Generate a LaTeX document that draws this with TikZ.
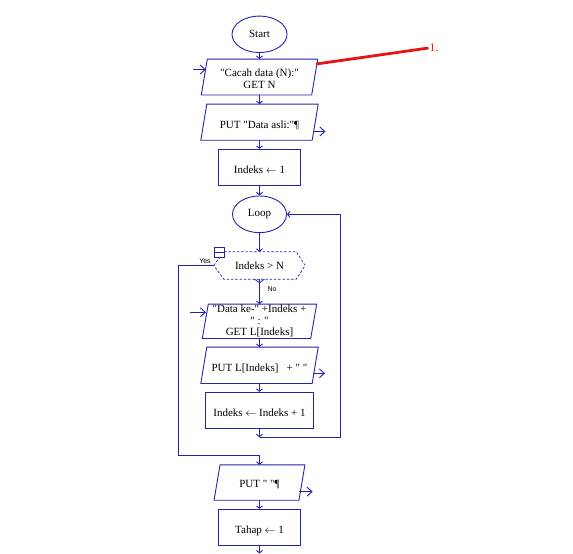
\documentclass[tikz,border=0pt]{standalone}
\usepackage{fontspec}
\newfontfamily\rserif{Liberation Serif}
\newfontfamily\lsans{Liberation Sans}
\usetikzlibrary{shapes.geometric,arrows.meta}
\definecolor{fb}{RGB}{35,35,175}
\definecolor{rd}{RGB}{230,20,20}
\newcommand\drawpara[1]{\draw[fl] ([xshift=3pt]#1.north west) -- ([xshift=3pt]#1.north east) -- ([xshift=-3pt]#1.south east) -- ([xshift=-3pt]#1.south west) -- cycle;}
\begin{document}
\begin{tikzpicture}[x=1pt,y=-1pt,
  every node/.style={font=\rserif\fontsize{11}{12.5}\selectfont, text=black},
  fl/.style={draw=fb, line width=0.9pt},
  ar/.style={fl, -{Straight Barb[length=2.5pt,width=6pt]}},
  io/.style={fl, -{Straight Barb[length=5pt,width=9pt]}},
  box/.style={rectangle, inner sep=0pt},
  procbox/.style={rectangle, draw=fb, line width=0.9pt, inner sep=0pt},
  ell/.style={ellipse, draw=fb, line width=0.9pt, inner sep=0pt},
  txt/.style={inner sep=0pt, align=center},
  lab/.style={font=\lsans\fontsize{7}{8}\selectfont, inner sep=0pt}]
\useasboundingbox (0,0) rectangle (573,554);

% Start
\node[ell, minimum width=55pt, minimum height=36.5pt] (start) at (259.5,34.3) {Start};

% Input 1
\node[box, minimum width=110pt, minimum height=35.5pt] (p1) at (259.5,77) {};
\drawpara{p1}
\node[txt] (p1t) at (259.5,78.5) {"Cacah data (N):"\\GET N};

% Output 2
\node[box, minimum width=111pt, minimum height=35.7pt] (p2) at (259.5,122.2) {};
\drawpara{p2}
\node[txt] (p2t) at ([yshift=-3.5pt]p2.center) {PUT "Data asli:"¶};

% Assignment Indeks <- 1
\node[procbox, minimum width=81.4pt, minimum height=35.7pt] (r1) at (259.5,167.2) {};
\node[txt] (r1t) at ([yshift=-3pt]r1.center) {Indeks $\leftarrow$ 1};

% Loop
\node[ell, minimum width=54pt, minimum height=36.7pt] (loop) at (259.5,214.3) {Loop};

% Decision hexagon
\node[box, minimum width=91pt, minimum height=27pt] (hex) at (259.5,265.5) {Indeks > N};
\draw[fl, line width=0.7pt, dash pattern=on 2.5pt off 1.8pt]
  (hex.west) -- ([xshift=10pt]hex.north west) -- ([xshift=-9pt]hex.north east) -- (hex.east)
  -- ([xshift=-9pt]hex.south east) -- ([xshift=10pt]hex.south west) -- cycle;
\draw[fl, line width=0.8pt] ([xshift=-5pt]hex.south) -- ([yshift=-3.5pt]hex.south) -- ([xshift=5pt]hex.south);
\node[draw=fb, fill=white, line width=0.8pt, minimum size=9.5pt, inner sep=0pt] (icon) at (219.2,252.6) {};
\draw[fb, line width=0.8pt] (icon.west) -- (icon.east);
\node[lab] (yes) at (205,261) {Yes};
\node[lab] (no) at (272,289.5) {No};

% Input 3
\node[box, minimum width=108pt, minimum height=34pt] (p3) at (259.5,321.3) {};
\drawpara{p3}
\node[txt, font=\rserif\fontsize{11}{11.5}\selectfont] (p3t) at (259.5,321) {"Data ke-" +Indeks +\\" : "\\GET L[Indeks]};

% Output 4
\node[box, minimum width=111pt, minimum height=36pt] (p4) at (259.5,365.3) {};
\drawpara{p4}
\node[txt] (p4t) at ([yshift=-3pt]p4.center) {PUT L[Indeks]\ \ \ + " "};

% Assignment Indeks <- Indeks + 1
\node[procbox, minimum width=107.6pt, minimum height=36pt] (r2) at (259.5,410.3) {};
\node[txt] (r2t) at ([yshift=-2.5pt]r2.center) {Indeks $\leftarrow$ Indeks + 1};

% Output 5
\node[box, minimum width=84.5pt, minimum height=35pt] (p5) at (259.5,482.5) {};
\drawpara{p5}
\node[txt] (p5t) at ([yshift=-2.5pt]p5.center) {PUT " "¶};

% Assignment Tahap <- 1
\node[procbox, minimum width=81.4pt, minimum height=35.7pt] (r3) at (259.5,527.2) {};
\node[txt] (r3t) at ([yshift=-3.5pt]r3.center) {Tahap $\leftarrow$ 1};

% main flow connectors
\draw[ar] (start.south) -- (p1.north);
\draw[ar] (p1.south) -- (p2.north);
\draw[ar] (p2.south) -- (r1.north);
\draw[ar] (r1.south) -- (loop.north);
\draw[ar] (loop.south) -- (hex.north);
\draw[ar] (hex.south) -- (p3.north);
\draw[ar] (p3.south) -- (p4.north);
\draw[ar] (p4.south) -- (r2.north);
\draw[ar] (p5.south) -- (r3.north);
\coordinate (fin) at (259.5,553.5);
\draw[ar] (r3.south) -- (fin);

% loop back
\coordinate (lb1) at (259.5,437.3);
\coordinate (lb2) at (340.7,437.3);
\coordinate (lb3) at (340.7,214.3);
\draw[ar] (r2.south) -- (lb1);
\draw[ar] (lb1) -- (lb2) -- (lb3) -- (loop.east);

% yes branch
\coordinate (y1) at (178.3,265.5);
\coordinate (y2) at (178.3,455);
\coordinate (y3) at (259.5,455);
\draw[fl] (hex.west) -- (y1) -- (y2) -- (y3);
\draw[ar] (y3) -- (p5.north);

% input / output arrows
\coordinate (in1a) at (193,69.5);
\coordinate (in1b) at (205.8,69.5);
\draw[io] (in1a) -- (in1b);
\coordinate (in3a) at (190,312.3);
\coordinate (in3b) at (206,312.3);
\draw[io] (in3a) -- (in3b);
\coordinate (out2a) at (313,131.5);
\coordinate (out2b) at (325.5,131.5);
\draw[io] (out2a) -- (out2b);
\coordinate (out4a) at (313.3,373.3);
\coordinate (out4b) at (325,373.3);
\draw[io] (out4a) -- (out4b);
\coordinate (out5a) at (299.3,491.7);
\coordinate (out5b) at (312.7,491.7);
\draw[io] (out5a) -- (out5b);

% red annotation
\coordinate (rl) at (316.3,64);
\node[text=rd, font=\rserif\fontsize{11.5}{12}\selectfont, anchor=west, inner sep=1pt] (one) at (428.5,48) {1.};
\draw[rd, line width=2.8pt] (rl) -- (one.west);
\end{tikzpicture}
\end{document}
